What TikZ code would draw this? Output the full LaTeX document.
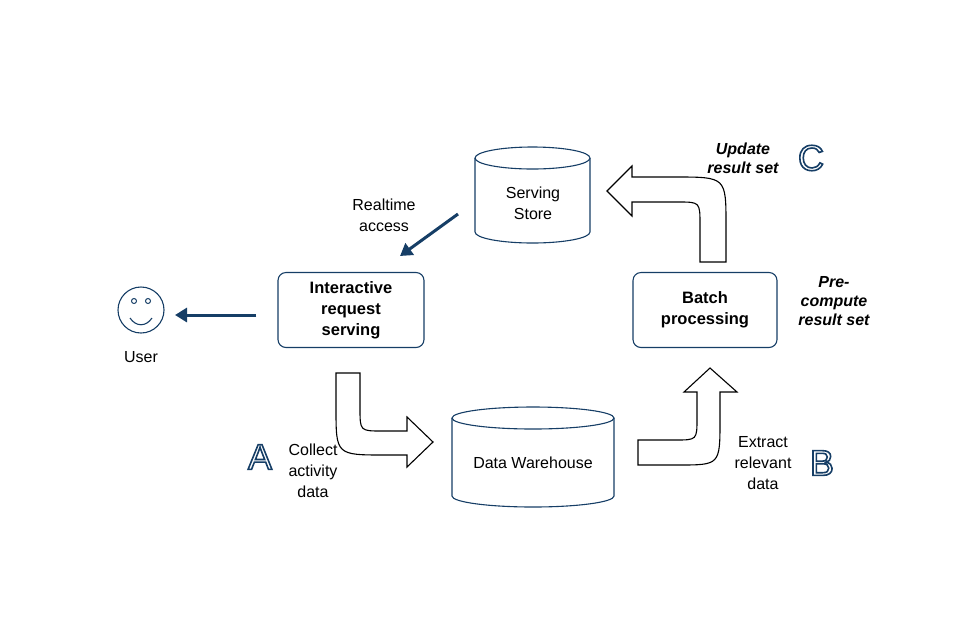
\documentclass[tikz,border=0pt]{standalone}
\usepackage{fontspec}
\setmainfont{Liberation Sans}
\usetikzlibrary{shapes.geometric,arrows.meta}
\definecolor{dblue}{HTML}{163E66}
\newcommand{\outl}[1]{\special{pdf:literal direct 1 Tr 1.6 w 0.086 0.243 0.4 RG}#1\special{pdf:literal direct 0 Tr}}
\begin{document}
\begin{tikzpicture}[x=1pt,y=-1pt,
  box/.style={draw=dblue,line width=1.1pt,rounded corners=8pt,align=center,font=\bfseries\fontsize{16.5}{21}\selectfont},
  cyl/.style={draw=dblue,line width=1.1pt,fill=white},
  lbl/.style={align=center,font=\fontsize{16}{21}\selectfont},
  ilbl/.style={align=center,font=\bfseries\itshape\fontsize{16}{19}\selectfont},
  bent/.style={draw=black,line width=1.1pt,fill=white,line join=miter},
  blue arrow/.style={draw=dblue,line width=3pt,-{Triangle[length=12pt,width=14pt]}},
  letter/.style={font=\fontsize{36}{38}\selectfont}]
\useasboundingbox (0,0) rectangle (960,630);
% user
\node[circle,draw=dblue,line width=1.1pt,minimum size=46pt,inner sep=0pt] (face) at (141,310) {};
\draw[dblue,line width=1pt] (134,301) circle (2.5pt) (148,301) circle (2.5pt);
\draw[dblue,line width=1.1pt] (130,318) .. controls (136,327) and (146,327) .. (152,318);
\node[lbl] (user) at (141,357) {User};
% boxes
\node[box,minimum width=146pt,minimum height=75pt] (irs) at (351,310) {Interactive\\request\\serving};
\node[box,minimum width=144pt,minimum height=75pt] (bp) at (705,310) {Batch\\processing};
\coordinate (uend) at (175,315);
\draw[blue arrow] (irs.west |- uend) ++(-21,0) coordinate (ustart) -- (uend);
% serving store cylinder
\draw[cyl] (475,158) -- (475,232) arc[x radius=57.5,y radius=11,start angle=180,end angle=0] -- (590,158);
\draw[cyl] (532.5,158) ellipse[x radius=57.5,y radius=11];
\node[lbl] (ss) at (533,203) {Serving\\Store};
% data warehouse cylinder
\draw[cyl] (452,418) -- (452,496) arc[x radius=81,y radius=11,start angle=180,end angle=0] -- (614,418);
\draw[cyl] (533,418) ellipse[x radius=81,y radius=11];
\node[lbl] (dw) at (533,463) {Data Warehouse};
% realtime
\node[lbl] (rt) at (384,215) {Realtime\\access};
\coordinate (ra) at (458,214);
\coordinate (rb) at (400,256);
\draw[blue arrow] (ra) -- (rb);
% bent arrows
\draw[bent] (336,373) -- (360,373) -- (360,408) .. controls (360,431) .. (382,431) -- (407,431) -- (407,417) -- (433,442) -- (407,467) -- (407,455) -- (385,455) .. controls (336,455) .. (336,408) -- cycle;
\draw[bent] (638,440) -- (675,440) .. controls (697,440) .. (697,418) -- (697,392) -- (684,392) -- (710,368) -- (737,392) -- (720,392) -- (720,420) .. controls (720,465) .. (678,465) -- (638,465) -- cycle;
\draw[bent] (700,262) -- (700,225) .. controls (700,202) .. (678,202) -- (632,202) -- (632,216) -- (607,191) -- (632,166) -- (632,177) -- (675,177) .. controls (726,177) .. (726,225) -- (726,262) -- cycle;
% labels
\node[lbl] (ca) at (313,471) {Collect\\activity\\data};
\node[lbl] (er) at (763,463) {Extract\\relevant\\data};
\node[ilbl] (ur) at (743,158) {Update\\result set};
\node[ilbl] (pc) at (834,301) {Pre-\\compute\\result set};
\node[letter] (la) at (260,457) {\outl{A}};
\node[letter] (lb) at (822,463) {\outl{B}};
\node[letter] (lc) at (811,158) {\outl{C}};
\end{tikzpicture}
\end{document}
